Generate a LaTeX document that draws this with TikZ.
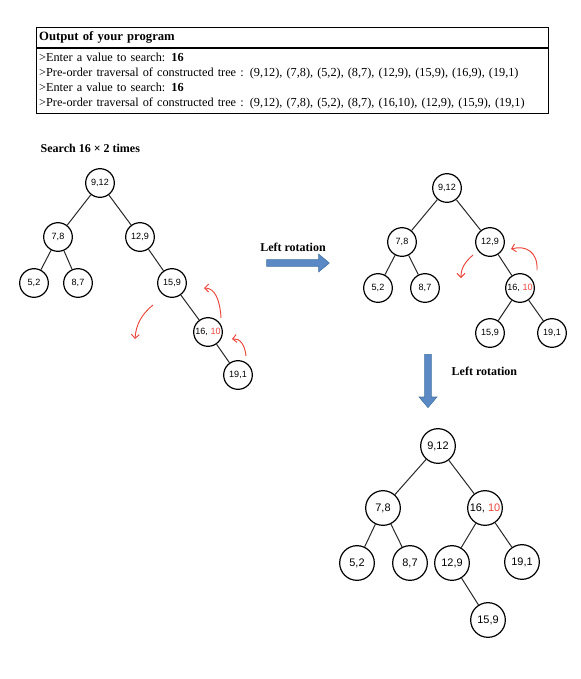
\documentclass[tikz,border=0pt]{standalone}
\usepackage{fontspec}
\setmainfont{Liberation Serif}
\setsansfont{Liberation Sans}
\usepackage{xcolor}
\usetikzlibrary{arrows.meta,shapes.arrows}
\definecolor{arrfill}{RGB}{91,137,198}
\definecolor{arrline}{RGB}{65,113,156}
\definecolor{edgegray}{RGB}{40,40,40}
\definecolor{penred}{RGB}{235,70,60}

\begin{document}
\begin{tikzpicture}[x=0.75pt, y=-0.75pt,
  outhead/.style={draw, line width=0.8pt, anchor=north west, text width=380pt, inner xsep=2pt, inner ysep=0pt, minimum height=15pt, align=left, font=\bfseries\fontsize{9.5}{11}\selectfont},
  outbody/.style={draw, line width=0.8pt, anchor=north west, text width=380pt, inner xsep=2pt, inner ysep=1pt, minimum height=49pt, align=left, font=\fontsize{9.2}{11.25}\selectfont},
  key/.style={draw, circle, line width=0.9pt, minimum size=21.5pt, inner sep=0pt, font=\sffamily\fontsize{6.8}{7}\selectfont},
  bigkey/.style={key, minimum size=26pt, font=\sffamily\fontsize{8.2}{9}\selectfont},
  edge/.style={line width=0.75pt, edgegray},
  pen/.style={penred, line width=0.7pt, -{Straight Barb[length=3pt,width=6pt]}},
  rarr/.style={single arrow, draw=arrline, fill=arrfill, inner xsep=0pt, inner ysep=2.3pt, single arrow head extend=4.2pt, single arrow tip angle=80},
  lbl/.style={font=\bfseries\fontsize{9}{11}\selectfont}
]
\useasboundingbox (0,0) rectangle (581,679);

% program output
\node[outhead] at (36,27) (head) {Output of your program};
\node[outbody] at (head.south west) (out) {>Enter a value to search: \textbf{16}\\
>Pre-order traversal of constructed tree : (9,12), (7,8), (5,2), (8,7), (12,9), (15,9), (16,9), (19,1)\\
>Enter a value to search: \textbf{16}\\
>Pre-order traversal of constructed tree : (9,12), (7,8), (5,2), (8,7), (16,10), (12,9), (15,9), (19,1)};

\node[lbl, anchor=west] at (36,148) (title) {Search 16 × 2 times};

% tree before rotation
\node[key] at (100,183) (l9)  {9,12};
\node[key] at (58,237)  (l7)  {7,8};
\node[key] at (140,237) (l12) {12,9};
\node[key] at (34,283)  (l5)  {5,2};
\node[key] at (78,283)  (l8)  {8,7};
\node[key] at (172,283) (l15) {15,9};
\node[key] at (208,332) (l16) {16, \textcolor{penred}{10}};
\node[key] at (238,375) (l19) {19,1};
\draw[edge] (l9) -- (l7);
\draw[edge] (l9) -- (l12);
\draw[edge] (l7) -- (l5);
\draw[edge] (l7) -- (l8);
\draw[edge] (l12) -- (l15);
\draw[edge] (l15) -- (l16);
\draw[edge] (l16) -- (l19);
\draw[pen] (221,318) .. controls (220,300) and (215,288) .. (204,288);
\draw[pen] (246,356) .. controls (245,345) and (240,338) .. (232,339);
\draw[pen] (153,305) .. controls (142,314) and (136,324) .. (135,339);

% first rotation
\node[lbl] at (293,247) (lab1) {Left rotation};
\node[rarr, minimum height=47pt] at (296,263) (rot1) {};

% tree after first rotation
\node[key] at (447,188) (r9)  {9,12};
\node[key] at (402,242) (r7)  {7,8};
\node[key] at (490,242) (r12) {12,9};
\node[key] at (378,288) (r5)  {5,2};
\node[key] at (425,288) (r8)  {8,7};
\node[key] at (520,288) (r16) {16, \textcolor{penred}{10}};
\node[key] at (490,333) (r15) {15,9};
\node[key] at (552,333) (r19) {19,1};
\draw[edge] (r9) -- (r7);
\draw[edge] (r9) -- (r12);
\draw[edge] (r7) -- (r5);
\draw[edge] (r7) -- (r8);
\draw[edge] (r12) -- (r16);
\draw[edge] (r16) -- (r15);
\draw[edge] (r16) -- (r19);
\draw[pen] (537,270) .. controls (538,252) and (526,245) .. (511,249);
\draw[pen] (473,255) .. controls (465,262) and (461,268) .. (461,278);

% second rotation
\node[rarr, minimum height=40pt, rotate=-90] at (428,379) (rot2) {};
\node[lbl, anchor=west] at (447,371) (lab2) {Left rotation};

% final tree
\node[bigkey] at (438,446) (b9)  {9,12};
\node[bigkey] at (383,508) (b7)  {7,8};
\node[bigkey] at (485,508) (b16) {16, \textcolor{penred}{10}};
\node[bigkey] at (357,563) (b5)  {5,2};
\node[bigkey] at (410,563) (b8)  {8,7};
\node[bigkey] at (452,563) (b12) {12,9};
\node[bigkey] at (522,562) (b19) {19,1};
\node[bigkey] at (488,620) (b15) {15,9};
\draw[edge] (b9) -- (b7);
\draw[edge] (b9) -- (b16);
\draw[edge] (b7) -- (b5);
\draw[edge] (b7) -- (b8);
\draw[edge] (b16) -- (b12);
\draw[edge] (b16) -- (b19);
\draw[edge] (b12) -- (b15);
\end{tikzpicture}
\end{document}
